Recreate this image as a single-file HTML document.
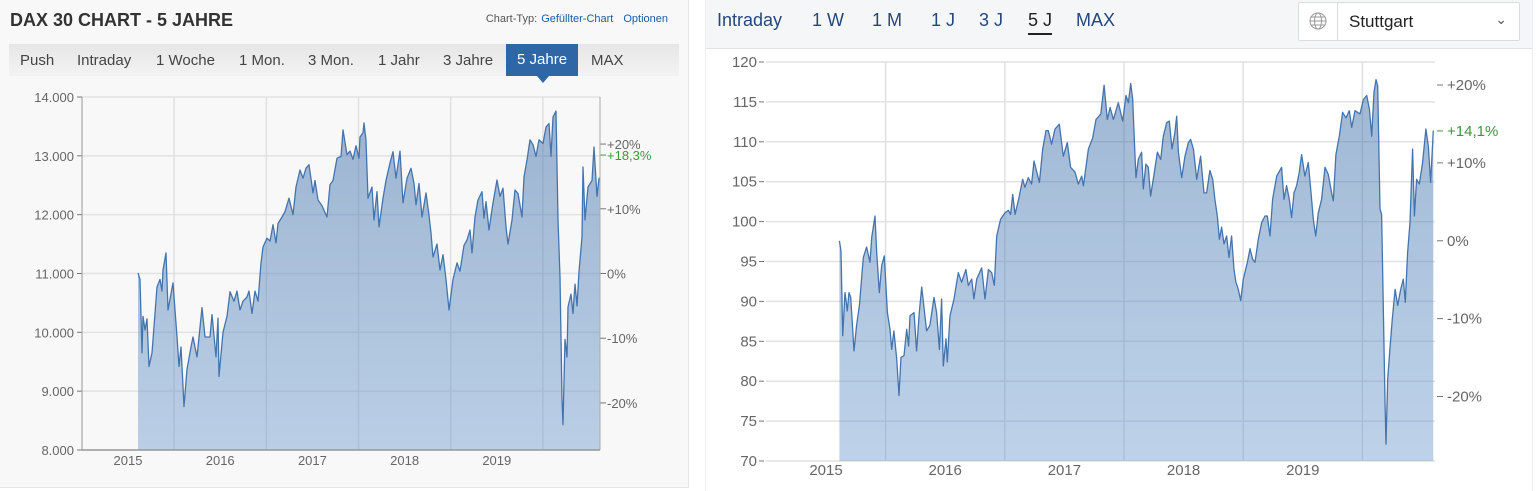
<!DOCTYPE html>
<html><head><meta charset="utf-8">
<style>
html,body{margin:0;padding:0;background:#fff;}
body{width:1536px;height:491px;position:relative;overflow:hidden;font-family:"Liberation Sans",Arial,sans-serif;}
.lp{position:absolute;left:0;top:0;width:688px;height:487px;background:#f8f8f8;border-right:1px solid #e6e6e6;border-bottom:1px solid #e6e6e6;}
.title{position:absolute;left:10px;top:10px;font-size:18px;font-weight:bold;color:#333;}
.ctype{position:absolute;right:20px;top:13px;font-size:11px;color:#555;}
.ctype span{color:#1f5aa6;margin-left:4px;}
.tabs{position:absolute;left:9px;top:44px;width:670px;height:32px;background:linear-gradient(#e6e6e6,#f3f3f3);}
.tab{position:absolute;top:8px;font-size:15px;color:#444;}
.tab.act{top:0;height:32px;line-height:32px;background:#2e66a6;color:#fff;padding:0 11px;}
.caret{position:absolute;left:537px;top:76px;width:0;height:0;border-left:6px solid transparent;border-right:6px solid transparent;border-top:7px solid #2e66a6;}
.rp{position:absolute;left:705px;top:0;width:826px;height:491px;background:#fff;border-left:1px solid #eee;border-right:1px solid #eee;}
.rbar{position:absolute;left:0;top:0;width:826px;height:48px;background:#f5f6f7;border-bottom:1px solid #e2e2e2;}
.rt{position:absolute;top:10px;font-size:18px;color:#24487e;}
.rt.act{color:#222;border-bottom:2px solid #222;padding-bottom:2px;}
.dd{position:absolute;left:592px;top:2px;width:220px;height:37px;background:#fff;border:1px solid #dcdcdc;border-radius:2px;}
.dd .g{position:absolute;left:0;top:0;width:38px;height:37px;border-right:1px solid #dcdcdc;}
.dd .s{position:absolute;left:50px;top:9px;font-size:17px;color:#222;}
.dd .c{position:absolute;right:12px;top:8px;font-size:14px;color:#555;}
svg{position:absolute;left:0;top:0;}
</style></head><body>
<div class="lp">
  <div class="title">DAX 30 CHART - 5 JAHRE</div>
  <div class="ctype">Chart-Typ:<span>Gefüllter-Chart</span><span style="margin-left:10px">Optionen</span></div>
  <div class="tabs">
    <div class="tab" style="left:11px">Push</div>
    <div class="tab" style="left:68px">Intraday</div>
    <div class="tab" style="left:147px">1 Woche</div>
    <div class="tab" style="left:230px">1 Mon.</div>
    <div class="tab" style="left:299px">3 Mon.</div>
    <div class="tab" style="left:369px">1 Jahr</div>
    <div class="tab" style="left:434px">3 Jahre</div>
    <div class="tab act" style="left:497px">5 Jahre</div>
    <div class="tab" style="left:582px">MAX</div>
  </div>
  <div class="caret"></div>
</div>
<div class="rp">
  <div class="rbar">
    <div class="rt" style="left:11px">Intraday</div>
    <div class="rt" style="left:106px">1 W</div>
    <div class="rt" style="left:166px">1 M</div>
    <div class="rt" style="left:225px">1 J</div>
    <div class="rt" style="left:273px">3 J</div>
    <div class="rt act" style="left:322px">5 J</div>
    <div class="rt" style="left:370px">MAX</div>
    <div class="dd">
      <div class="g">
        <svg width="38" height="37" style="position:absolute;left:0;top:0"><g fill="none" stroke="#999" stroke-width="1"><circle cx="19" cy="18" r="8"/><ellipse cx="19" cy="18" rx="3.5" ry="8"/><line x1="11" y1="18" x2="27" y2="18"/><line x1="12.5" y1="14" x2="25.5" y2="14"/><line x1="12.5" y1="22" x2="25.5" y2="22"/></g></svg>
      </div>
      <div class="s">Stuttgart</div>
      <div class="c">&#8964;</div>
    </div>
  </div>
</div>
<svg id="chart" width="1536" height="491"></svg>
<script>
// ---- Left chart (DAX points) ----
const leftYTicks = [8000, 9000, 10000, 11000, 12000, 13000, 14000];
const leftYLabels = ["8.000","9.000","10.000","11.000","12.000","13.000","14.000"];
const yearLabels = ["2015","2016","2017","2018","2019"];
const leftPctTicks = [20, 10, 0, -10, -20];
const leftPctBase = 11000;
const leftCurrentPct = 18.3;
const tL = [0.108,0.130,0.152,0.163,0.184,0.206,0.228,0.260,0.282,0.315,0.347,0.369,0.380,0.412,0.434,0.488,0.531,0.553,0.575,0.607,0.640,0.683,0.705,0.748,0.803,0.835,0.889,0.911,0.954,0.976,0.987,1.030,1.074,1.106,1.150,1.182,1.215,1.247,1.291,1.312,1.345,1.377,1.410,1.443,1.464,1.508,1.540,1.573,1.605,1.627,1.670,1.703,1.746,1.790,1.822,1.866,1.898,1.931,1.963,2.006,2.028,2.061,2.104,2.158,2.191,2.223,2.267,2.310,2.332,2.375,2.408,2.440,2.473,2.505,2.516,2.549,2.560,2.581,2.603,2.646,2.668,2.701,2.722,2.766,2.798,2.842,2.874,2.907,2.950,2.983,3.026,3.069,3.102,3.124,3.156,3.189,3.232,3.265,3.286,3.308,3.351,3.384,3.416,3.449,3.482,3.525,3.568,3.601,3.644,3.677,3.709,3.731,3.764,3.796,3.839,3.861,3.883,3.915,3.959,4.002,4.035,4.067,4.100,4.121,4.165,4.197,4.230,4.273,4.295,4.328,4.360,4.393,4.425,4.458,4.501,4.534,4.566,4.588,4.610,4.642,4.664,4.685,4.707,4.718,4.740,4.761,4.772,4.805,4.826,4.848,4.870,4.892,4.924,4.935,4.957,4.989,5.033,5.054,5.087,5.108,5.119];
const vL = [11010,10900,9650,10270,10040,10230,9420,9650,10100,10770,10900,10700,11060,11350,10380,10840,9920,9420,9750,8740,9370,9750,9920,9580,10420,9920,9920,10300,9580,10240,9250,10000,10270,10690,10530,10700,10380,10530,10600,10700,10320,10700,10530,11180,11450,11600,11550,11830,11520,11850,11960,12050,12280,12000,12470,12760,12620,12790,12850,12370,12580,12250,12150,11960,12510,12580,12960,12990,13440,13020,13080,12940,13170,12960,13320,13390,13560,13260,12280,12470,11910,12390,11790,12280,12580,12880,13070,12620,13080,12200,12620,12790,12530,12170,12530,11960,12370,11990,11690,11280,11500,11060,11320,10900,10380,10900,11180,11040,11480,11570,11740,11350,11960,12250,12390,11940,12220,11740,12200,12590,12310,12450,11790,11500,11910,12420,12360,11960,12640,12930,13270,13190,12990,13270,13210,13490,13550,12990,13660,13760,11910,10940,8860,8430,9880,9580,10430,10650,10320,10820,10450,11030,11620,12810,11910,12470,12580,13150,12310,12620,12600];

// ---- Right chart (index) ----
const rightYTicks = [70,75,80,85,90,95,100,105,110,115,120];
const rightPctTicks = [20, 10, 0, -10, -20];
const rightPctBase = 97.6;
const rightCurrentPct = 14.1;
const tR = [0.112,0.126,0.140,0.159,0.179,0.193,0.207,0.235,0.257,0.280,0.313,0.341,0.369,0.383,0.411,0.425,0.447,0.467,0.489,0.515,0.537,0.551,0.570,0.593,0.612,0.629,0.654,0.677,0.693,0.705,0.738,0.760,0.783,0.803,0.844,0.872,0.906,0.928,0.951,0.970,0.984,1.007,1.018,1.040,1.074,1.110,1.138,1.174,1.194,1.222,1.241,1.264,1.306,1.334,1.362,1.390,1.412,1.432,1.465,1.502,1.530,1.549,1.566,1.586,1.622,1.650,1.669,1.697,1.725,1.745,1.790,1.818,1.846,1.865,1.893,1.921,1.957,1.991,2.024,2.052,2.089,2.117,2.145,2.159,2.201,2.237,2.265,2.305,2.333,2.360,2.383,2.411,2.452,2.489,2.517,2.537,2.556,2.573,2.592,2.601,2.620,2.648,2.662,2.684,2.704,2.723,2.752,2.780,2.808,2.830,2.858,2.880,2.903,2.925,2.942,2.956,2.984,3.012,3.040,3.059,3.082,3.110,3.143,3.171,3.193,3.221,3.244,3.263,3.283,3.300,3.319,3.339,3.361,3.381,3.403,3.423,3.439,3.459,3.479,3.501,3.535,3.557,3.579,3.599,3.627,3.655,3.683,3.702,3.725,3.747,3.781,3.822,3.842,3.864,3.887,3.906,3.926,3.948,3.971,3.990,4.018,4.046,4.074,4.088,4.108,4.130,4.158,4.186,4.214,4.242,4.256,4.278,4.306,4.334,4.362,4.390,4.410,4.438,4.480,4.508,4.536,4.559,4.578,4.597,4.614,4.628,4.648,4.661,4.676,4.690,4.698,4.712,4.731,4.751,4.774,4.796,4.821,4.843,4.860,4.879,4.899,4.921,4.936,4.955,4.977,5.005,5.033,5.053,5.072,5.095];
const vR = [97.6,96.3,85.7,91.1,88.8,91.1,90.5,83.8,87.0,89.5,95.5,96.8,94.9,98.0,100.7,96.1,91.1,94.5,95.7,88.6,86.5,84.0,86.3,82.8,78.2,83.0,83.2,86.5,84.4,88.2,88.6,83.8,88.6,91.8,86.3,87.0,90.5,88.6,84.0,90.3,81.9,85.3,82.4,88.2,90.3,93.6,92.4,94.0,92.0,92.8,90.3,92.8,94.2,90.3,94.0,93.6,92.0,98.2,100.3,101.1,101.4,100.9,103.4,100.9,103.2,105.3,104.3,105.5,104.7,107.6,104.9,109.1,111.4,111.4,109.7,111.6,112.2,108.2,109.9,106.8,106.2,104.7,105.7,104.5,109.1,110.5,112.8,113.5,117.1,112.8,114.3,112.8,114.9,112.6,115.8,114.9,117.3,115.3,108.2,105.5,107.8,108.7,104.1,107.2,106.8,103.2,105.9,108.7,107.8,110.7,112.4,112.6,109.1,111.0,113.2,108.7,105.5,108.2,109.9,110.3,109.1,105.3,108.2,103.6,103.6,106.4,105.3,102.8,100.7,97.8,99.3,97.2,98.2,95.5,98.2,94.0,92.4,91.5,90.1,92.8,94.9,96.6,95.3,94.9,97.8,99.9,100.7,100.7,98.2,102.8,105.7,106.8,102.8,104.5,102.8,100.5,103.6,104.5,106.2,108.4,105.7,107.4,102.8,100.3,98.2,101.1,102.8,106.8,105.9,103.6,102.6,108.4,110.7,113.7,113.0,113.9,111.8,113.9,113.5,115.3,115.8,114.1,110.7,116.2,117.8,117.0,101.6,100.9,88.6,77.4,72.1,80.3,84.0,87.8,91.5,89.5,91.5,92.8,89.9,96.1,99.9,109.1,100.7,105.3,104.7,107.4,111.6,109.5,104.9,111.4];

const NS = "http://www.w3.org/2000/svg";
const svg = document.getElementById('chart');
function mk(tag, attrs, parent, txt){
  const e = document.createElementNS(NS, tag);
  for (const k in attrs) e.setAttribute(k, attrs[k]);
  if (txt !== undefined) e.textContent = txt;
  (parent || svg).appendChild(e);
  return e;
}
const defs = mk('defs', {});
const gr = mk('linearGradient', {id:'fillg', x1:0, y1:0, x2:0, y2:1}, defs);
mk('stop', {offset:'0', 'stop-color':'#3f6fa9', 'stop-opacity':'0.5'}, gr);
mk('stop', {offset:'1', 'stop-color':'#6e9ccf', 'stop-opacity':'0.45'}, gr);

function drawChart(cfg){
  const g = mk('g', {});
  
  
  cfg.yTicks.forEach((v, i) => {
    const y = cfg.y(v);
    const gl = mk('line', {x1:cfg.x0, x2:cfg.x1, y1:y, y2:y, stroke:'#e2e2e2', 'stroke-width':1.5}, g);
    
    
    const lbl = mk('text', {x:cfg.yLabelX, y:y+5, 'text-anchor':'end', 'font-size':cfg.fs, fill:'#666', 'font-family':'Liberation Sans, sans-serif'}, g, cfg.yLabels[i]);
    
    
    mk('line', {x1:cfg.tickX0, x2:cfg.tickX1, y1:y, y2:y, stroke:'#777', 'stroke-width':1}, g);
  });
  yearLabels.forEach((lab, i) => {
    const xm = cfg.x(i + 0.5);
    const vl = mk('line', {x1:xm, x2:xm, y1:cfg.yTop, y2:cfg.yBot, stroke:'#e0e0e0', 'stroke-width':1.5}, g);
    
    
    const t = mk('text', {x:cfg.x(i), y:cfg.yearY, 'text-anchor':'middle', 'font-size':cfg.fs, fill:'#666', 'font-family':'Liberation Sans, sans-serif'}, g, lab);
    
    
  });
  let d = '';
  cfg.t.forEach((tt, i) => { d += (i ? 'L' : 'M') + cfg.x(tt).toFixed(1) + ' ' + cfg.y(cfg.v[i]).toFixed(1); });
  const last = cfg.x(cfg.t[cfg.t.length-1]).toFixed(1), first = cfg.x(cfg.t[0]).toFixed(1);
  const area = mk('path', {d: d + 'L' + last + ' ' + cfg.yBot + 'L' + first + ' ' + cfg.yBot + 'Z', fill:'url(#fillg)'}, g);
  
  
  const line = mk('path', {d: d, fill:'none', stroke:'#4574ad', 'stroke-width':1.3, 'stroke-linejoin':'round'}, g);
  
  
  cfg.pct.forEach(p => {
    const y = cfg.y(cfg.base * (1 + p / 100));
    mk('line', {x1:cfg.pX, x2:cfg.pX + 6, y1:y, y2:y, stroke:'#777', 'stroke-width':1}, g);
    const t = mk('text', {x:cfg.pX + cfg.pGap, y:y+5, 'font-size':cfg.pfs, fill:'#666', 'font-family':'Liberation Sans, sans-serif'}, g, (p > 0 ? '+' : (p < 0 ? '-' : '')) + Math.abs(p) + '%');
    
    
  });
  const yc = cfg.y(cfg.base * (1 + cfg.cur / 100));
  mk('line', {x1:cfg.pX, x2:cfg.pX + 6, y1:yc, y2:yc, stroke:'#3a9a3a', 'stroke-width':1}, g);
  const ct = mk('text', {x:cfg.pX + cfg.pGap, y:yc+5, 'font-size':cfg.pfs, fill:'#3a9a3a', 'font-family':'Liberation Sans, sans-serif'}, g, '+' + cfg.cur.toFixed(1).replace('.', ',') + '%');
  
  
  return g;
}

const gl = drawChart({
  name:'left-dax-chart', x:t => 128 + t * 92.2, y:v => 97 + (14000 - v) * (353 / 6000),
  x0:82, x1:600, yTop:97, yBot:450, yTicks:leftYTicks, yLabels:leftYLabels, yLabelX:74, tickX0:77, tickX1:82,
  yearY:465, fs:13, t:tL, v:vL, pct:leftPctTicks, base:leftPctBase, cur:leftCurrentPct, pX:600, pGap:7, pfs:13
});
mk('line', {x1:82, x2:82, y1:97, y2:450, stroke:'#999', 'stroke-width':1}, gl);
mk('line', {x1:82, x2:600, y1:450, y2:450, stroke:'#999', 'stroke-width':1.5}, gl);
mk('line', {x1:600, x2:600, y1:97, y2:450, stroke:'#aaa', 'stroke-width':1}, gl);

drawChart({
  name:'right-index-chart', x:t => 826 + t * 119.2, y:v => 62 + (120 - v) * 7.98,
  x0:766, x1:1435, yTop:62, yBot:461, yTicks:rightYTicks, yLabels:rightYTicks.map(String), yLabelX:757, tickX0:759, tickX1:764,
  yearY:475, fs:15, t:tR, v:vR, pct:rightPctTicks, base:rightPctBase, cur:rightCurrentPct, pX:1437, pGap:10, pfs:15
});
</script>
</body></html>
